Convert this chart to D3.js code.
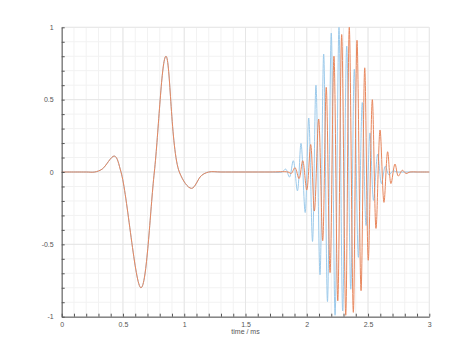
<!DOCTYPE html>
<html>
<head>
<meta charset="utf-8">
<script src="https://cdn.jsdelivr.net/npm/d3@7"></script>
<style>
  html, body { margin: 0; padding: 0; background: #fff; }
  svg { display: block; }
  text { font-family: "Liberation Sans", Arial, sans-serif; }
</style>
</head>
<body>
<svg id="chart" width="474" height="356"></svg>
<script>
// ---- Data (extrema / crossings) ----
// shared low-frequency pulse (both series overlap here)
const pulseT = [0, 0.2, 0.27, 0.33, 0.43, 0.484, 0.647, 0.756, 0.851, 0.96, 1.06, 1.14, 1.2, 1.3, 1.7];
const pulseV = [0, 0, 0, 0.02, 0.11, 0, -0.80, 0, 0.80, 0, -0.113, -0.025, 0, 0, 0];

// high-frequency burst, blue series
const blueT = [1.798, 1.828, 1.859, 1.890, 1.924, 1.953, 1.987, 2.016, 2.047, 2.075,
               2.108, 2.138, 2.169, 2.200, 2.231, 2.263, 2.293, 2.326, 2.359, 2.388,
               2.421, 2.453, 2.484, 2.516, 2.545, 2.579, 2.610, 2.641, 2.671, 2.704, 2.736, 2.8, 3];
const blueV = [0, 0.02, -0.035, 0.078, -0.13, 0.198, -0.28, 0.373, -0.48, 0.60,
               -0.71, 0.815, -0.895, 0.96, -0.99, 1.0, -0.96, 0.87, -0.81, 0.71,
               -0.59, 0.48, -0.37, 0.27, -0.196, 0.124, -0.08, 0.04, -0.02, 0.008, 0, 0, 0];

// high-frequency burst, orange series
const orangeT = [1.847, 1.873, 1.904, 1.937, 1.967, 2.000, 2.032, 2.062, 2.097, 2.130,
                 2.159, 2.190, 2.222, 2.253, 2.285, 2.318, 2.347, 2.380, 2.410, 2.443,
                 2.473, 2.502, 2.535, 2.565, 2.598, 2.630, 2.660, 2.687, 2.720, 2.747,
                 2.780, 2.810, 2.843, 2.9, 3];
const orangeV = [0, -0.01, 0.03, -0.046, 0.078, -0.125, 0.19, -0.27, 0.366, -0.475,
                 0.585, -0.695, 0.80, -0.89, 0.95, -0.99, 1.0, -0.97, 0.91, -0.82,
                 0.72, -0.61, 0.50, -0.39, 0.29, -0.21, 0.14, -0.08, 0.055, -0.028,
                 0.012, -0.01, 0, 0, 0];

const xTicks = [0, 0.5, 1, 1.5, 2, 2.5, 3];
const yTicks = [-1, -0.5, 0, 0.5, 1];
const xLabel = "time / ms";

// ---- Chart ----
const svg = d3.select("#chart");
const x = d3.scaleLinear().domain([0, 3]).range([61.7, 429.3]);
const y = d3.scaleLinear().domain([-1, 1]).range([316.7, 27.3]);

const xMinor = d3.range(0, 31).map(i => i / 10);
const yMinor = d3.range(-10, 11).map(i => i / 10);

// grid
const grid = svg.append("g");
grid.selectAll(".gxm").data(xMinor).join("line")
  .attr("x1", d => x(d)).attr("x2", d => x(d))
  .attr("y1", y(-1)).attr("y2", y(1))
  .attr("stroke", "#f2f2f2").attr("stroke-width", 1);
grid.selectAll(".gym").data(yMinor).join("line")
  .attr("x1", x(0)).attr("x2", x(3))
  .attr("y1", d => y(d)).attr("y2", d => y(d))
  .attr("stroke", "#f2f2f2").attr("stroke-width", 1);
grid.selectAll(".gx").data(xTicks).join("line")
  .attr("x1", d => x(d)).attr("x2", d => x(d))
  .attr("y1", y(-1)).attr("y2", y(1))
  .attr("stroke", "#e6e6e6").attr("stroke-width", 1);
grid.selectAll(".gy").data(yTicks).join("line")
  .attr("x1", x(0)).attr("x2", x(3))
  .attr("y1", d => y(d)).attr("y2", d => y(d))
  .attr("stroke", "#e6e6e6").attr("stroke-width", 1);

// series
function series(burstT, burstV) {
  const pts = [];
  pulseT.forEach((t, i) => pts.push([t, pulseV[i]]));
  burstT.forEach((t, i) => pts.push([t, burstV[i]]));
  return pts;
}
const line = d3.line().x(d => x(d[0])).y(d => y(d[1])).curve(d3.curveCatmullRom.alpha(0.5));

svg.append("path").datum(series(blueT, blueV))
  .attr("d", line).attr("fill", "none")
  .attr("stroke", "#9ccaeb").attr("stroke-width", 1);
svg.append("path").datum(series(orangeT, orangeV))
  .attr("d", line).attr("fill", "none")
  .attr("stroke", "#e8875d").attr("stroke-width", 1);

// axes
const fmt = d => String(+d.toFixed(1));
const isMajor = d => Math.abs(d * 2 - Math.round(d * 2)) < 1e-6;

const xAxis = svg.append("g").attr("transform", `translate(0,${y(-1)})`)
  .call(d3.axisBottom(x).tickValues(xMinor).tickSizeInner(-3).tickSizeOuter(0)
        .tickPadding(5).tickFormat(d => isMajor(d) ? fmt(d) : ""));
const yAxis = svg.append("g").attr("transform", `translate(${x(0)},0)`)
  .call(d3.axisLeft(y).tickValues(yMinor).tickSizeInner(-3).tickSizeOuter(0)
        .tickPadding(8).tickFormat(d => isMajor(d) ? fmt(d) : ""));

[xAxis, yAxis].forEach(a => {
  a.select(".domain").attr("stroke", "#555").attr("stroke-width", 1);
  a.selectAll(".tick line").attr("stroke", "#555");
  a.selectAll(".tick text").attr("fill", "#555").attr("font-size", 7)
    .attr("font-family", "'Liberation Sans', Arial, sans-serif");
});

svg.append("text")
  .attr("x", (x(0) + x(3)) / 2).attr("y", 334)
  .attr("text-anchor", "middle").attr("font-size", 7).attr("fill", "#555")
  .text(xLabel);
</script>
</body>
</html>
